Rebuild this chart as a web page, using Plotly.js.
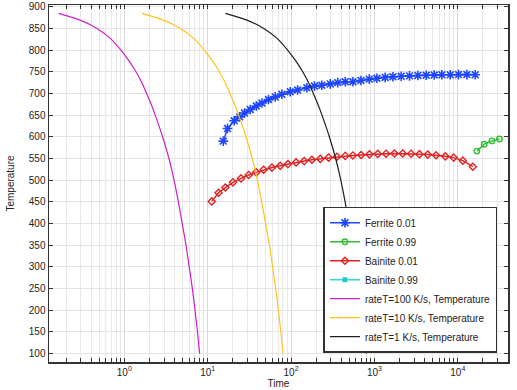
<!DOCTYPE html>
<html>
<head>
<meta charset="utf-8">
<script src="https://cdn.plot.ly/plotly-3.0.1.min.js"></script>
<style>html,body{margin:0;padding:0;background:#fff;}#chart{width:517px;height:390px;}</style>
</head>
<body>
<div id="chart"></div>
<script>
// Ferrite 0.01 (fraction transformed = 0.01)
var ferrite01Time = [15.4, 17.3, 20.8, 24.2, 27.7, 32.4, 38.3, 44.8, 53.7, 64.6, 77.6, 97.7, 120, 155, 191, 234, 295, 363, 447, 552, 689, 867, 1072, 1346, 1667, 2094, 2636, 3319, 4178, 5212, 6442, 8110, 10190, 12850, 16180];
var ferrite01Temp = [590, 619, 637, 646, 655, 663, 671, 678, 686, 692, 698, 704, 708, 713, 717, 719, 722, 725, 727, 727, 730, 733, 735, 737, 738.5, 739.5, 740.5, 741.5, 742, 742.5, 743, 743, 743.5, 743.5, 743];
// Ferrite 0.99
var ferrite99Time = [16940, 20750, 25640, 31620];
var ferrite99Temp = [567, 583, 590.5, 595];
// Bainite 0.01
var bainite01Time = [11.2, 13.5, 16.3, 20.1, 25.1, 31.0, 38.3, 46.9, 59.0, 74.3, 91.8, 115, 144, 178, 224, 282, 355, 447, 552, 693, 871, 1096, 1380, 1738, 2188, 2754, 3467, 4365, 5495, 7079, 8913, 11480, 15140];
var bainite01Temp = [451, 471, 483, 495, 504, 512, 518, 524, 529, 533, 537, 541, 544, 547, 549, 552, 554, 556, 557, 558, 559.5, 560.5, 561, 561.5, 561.5, 561, 560, 559, 557.5, 555, 552, 545, 531];
// Bainite 0.99 (no point falls inside the plotted window)
var bainite99Time = [null];
var bainite99Temp = [null];
// Cooling curves
var rate100Time = [0.163, 0.296, 0.47, 0.68, 0.91, 1.14, 1.38, 1.62, 1.85, 2.1, 2.35, 2.88, 3.43, 3.95, 4.45, 4.95, 5.5, 6.0, 6.55, 7.05, 7.55, 8.0];
var rate100Temp = [884.5, 869, 850, 827, 800, 775, 750, 725, 700, 675, 650, 600, 550, 500, 450, 400, 350, 300, 250, 200, 150, 100];
var rate10Time = [1.63, 2.96, 4.7, 6.8, 9.1, 11.4, 13.8, 16.2, 18.5, 21, 23.5, 28.8, 34.3, 39.5, 44.5, 49.5, 55, 60, 65.5, 70.5, 75.5, 80];
var rate10Temp = [884.5, 869, 850, 827, 800, 775, 750, 725, 700, 675, 650, 600, 550, 500, 450, 400, 350, 300, 250, 200, 150, 100];
var rate1Time = [16.3, 29.6, 47, 68, 91, 114, 138, 162, 185, 210, 235, 288, 343, 395, 445, 495, 550, 600, 655, 705, 755, 800];
var rate1Temp = [884.5, 869, 850, 827, 800, 775, 750, 725, 700, 675, 650, 600, 550, 500, 450, 400, 350, 300, 250, 200, 150, 100];

var xTickVals = [1, 10, 100, 1000, 10000];
var xTickText = ['10<sup>0</sup>', '10<sup>1</sup>', '10<sup>2</sup>', '10<sup>3</sup>', '10<sup>4</sup>'];
var seriesNames = ['Ferrite 0.01', 'Ferrite 0.99', 'Bainite 0.01', 'Bainite 0.99',
  'rateT=100 K/s, Temperature', 'rateT=10 K/s, Temperature', 'rateT=1 K/s, Temperature'];

var FONT = '"Liberation Sans", Arial, sans-serif';
var traces = [
  {x: ferrite01Time, y: ferrite01Temp, name: seriesNames[0], mode: 'lines+markers', type: 'scatter',
   line: {color: 'rgb(30,70,255)', width: 1.5},
   marker: {symbol: 'asterisk-open', size: 8, line: {color: 'rgb(30,70,255)', width: 1.6}}},
  {x: ferrite99Time, y: ferrite99Temp, name: seriesNames[1], mode: 'lines+markers', type: 'scatter',
   line: {color: 'rgb(50,190,50)', width: 1.5},
   marker: {symbol: 'circle-open', size: 5.5, color: 'rgb(50,190,50)', line: {color: 'rgb(50,190,50)', width: 1.4}}},
  {x: bainite01Time, y: bainite01Temp, name: seriesNames[2], mode: 'lines+markers', type: 'scatter',
   line: {color: 'rgb(225,35,35)', width: 1.5},
   marker: {symbol: 'diamond-open', size: 5.5, color: 'rgb(225,35,35)', line: {color: 'rgb(225,35,35)', width: 1.4}}},
  {x: bainite99Time, y: bainite99Temp, name: seriesNames[3], mode: 'lines+markers', type: 'scatter',
   line: {color: 'rgb(40,220,220)', width: 1.5},
   marker: {symbol: 'square', size: 5, color: 'rgb(40,200,200)'}},
  {x: rate100Time, y: rate100Temp, name: seriesNames[4], mode: 'lines', type: 'scatter',
   line: {color: 'rgb(205,30,205)', width: 1.2, shape: 'spline', smoothing: 0.6}},
  {x: rate10Time, y: rate10Temp, name: seriesNames[5], mode: 'lines', type: 'scatter',
   line: {color: 'rgb(255,195,30)', width: 1.2, shape: 'spline', smoothing: 0.6}},
  {x: rate1Time, y: rate1Temp, name: seriesNames[6], mode: 'lines', type: 'scatter',
   line: {color: 'rgb(30,30,30)', width: 1.2, shape: 'spline', smoothing: 0.6}}
];

var layout = {
  width: 517, height: 390,
  margin: {l: 49, r: 9, t: 5, b: 28},
  paper_bgcolor: '#fff', plot_bgcolor: '#fff',
  font: {family: FONT, size: 10, color: '#222'},
  showlegend: true,
  legend: {x: 0.977, y: 0.026, xanchor: 'right', yanchor: 'bottom',
    bgcolor: '#fff', bordercolor: '#333', borderwidth: 1.5,
    font: {family: FONT, size: 10, color: '#222'}, itemwidth: 30, tracegroupgap: 0},
  xaxis: {
    type: 'log', range: [-0.903, 4.602],
    tickmode: 'array', tickvals: xTickVals, ticktext: xTickText,
    ticks: 'inside', ticklen: 4, tickwidth: 1, tickcolor: '#333',
    showline: true, linecolor: '#333', linewidth: 1.5, mirror: 'allticks',
    showgrid: true, gridcolor: '#d9d9d9', gridwidth: 1, zeroline: false,
    tickfont: {family: FONT, size: 10, color: '#222'},
    minor: {dtick: 'D1', ticks: 'inside', ticklen: 4, tickwidth: 1, tickcolor: '#333',
      showgrid: true, gridcolor: '#e8e8e8', gridwidth: 1},
    title: {text: 'Time', font: {family: FONT, size: 10, color: '#222'}, standoff: 1}
  },
  yaxis: {
    range: [80.6, 904], dtick: 50, tick0: 0,
    ticks: 'inside', ticklen: 4, tickwidth: 1, tickcolor: '#333',
    showline: true, linecolor: '#333', linewidth: 1.5, mirror: 'allticks',
    showgrid: true, gridcolor: '#e3e3e3', gridwidth: 1, zeroline: false,
    tickfont: {family: FONT, size: 10, color: '#222'},
    title: {text: 'Temperature', font: {family: FONT, size: 10, color: '#222'}, standoff: 12}
  }
};

Plotly.newPlot('chart', traces, layout, {displayModeBar: false, staticPlot: true});
</script>
</body>
</html>
